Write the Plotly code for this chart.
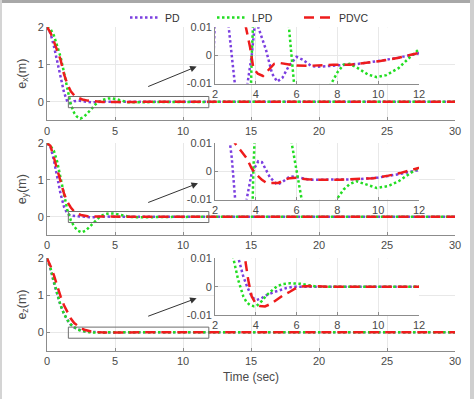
import plotly.graph_objects as go

# ---------------- data ----------------
series_names = ["PD", "LPD", "PDVC"]
panel_titles = ["e<sub>x</sub>(m)", "e<sub>y</sub>(m)", "e<sub>z</sub>(m)"]
x_title = "Time (sec)"
main_xticks = [0, 5, 10, 15, 20, 25, 30]
main_yticks = [0, 1, 2]
inset_xticks = [2, 4, 6, 8, 10, 12]
inset_yticks = [-0.01, 0, 0.01]
inset_yticklabels = ["-0.01", "0", "0.01"]

# e_x
tx_pd = [0, 0.25, 0.5, 0.75, 1.0, 1.25, 1.5, 1.65, 1.8, 2.0, 2.4, 2.6, 2.82, 3.05, 3.3, 3.55, 3.8, 3.95, 4.1, 4.2, 4.5, 4.8, 5.05, 5.3, 5.6, 6.0, 6.3, 6.7, 7.0, 7.5, 8.0, 9.0, 10.0, 11.0, 12.0, 13.0, 15, 20, 25, 30]
ex_pd = [2.0, 1.84, 1.5, 1.08, 0.62, 0.25, 0.0, -0.04, -0.03, 0.015, 0.025, 0.015, 0.0, -0.015, -0.02, -0.012, 0.0, 0.011, 0.0105, 0.0084, 0.002, -0.0065, -0.0093, -0.008, -0.004, -0.0005, -0.0015, -0.0037, -0.004, -0.0038, -0.0035, -0.003, -0.002, -0.0008, 0.0008, 0.0004, 0.0, 0.0, 0.0, 0.0]
tx_lpd = [0, 0.25, 0.5, 0.75, 1.0, 1.25, 1.5, 1.75, 2.0, 2.2, 2.45, 2.7, 3.0, 3.3, 3.6, 3.8, 4.1, 4.5, 4.8, 5.1, 5.4, 5.6, 5.75, 5.9, 6.1, 6.6, 7.2, 7.7, 8.0, 8.3, 8.6, 9.0, 9.5, 9.93, 10.4, 11.0, 11.5, 12.0, 13.0, 15, 20, 25, 30]
ex_lpd = [2.0, 1.95, 1.78, 1.5, 1.2, 0.78, 0.33, -0.08, -0.3, -0.4, -0.45, -0.41, -0.3, -0.17, -0.06, 0.0, 0.05, 0.085, 0.09, 0.07, 0.035, 0.012, 0.0, -0.012, -0.016, -0.02, -0.015, -0.01, -0.006, -0.0033, -0.003, -0.0045, -0.0068, -0.0077, -0.007, -0.0045, -0.001, 0.0022, 0.001, 0.0, 0.0, 0.0, 0.0]
tx_pdvc = [0, 0.25, 0.5, 0.75, 1.0, 1.25, 1.5, 1.75, 2.0, 2.25, 2.6, 3.0, 3.3, 3.5, 3.72, 3.88, 4.1, 4.35, 4.6, 4.9, 5.2, 5.5, 6.0, 6.5, 7.0, 7.8, 8.6, 9.3, 10.1, 11.0, 12.0, 13.0, 15, 20, 25, 30]
ex_pdvc = [2.0, 1.85, 1.62, 1.38, 1.12, 0.74, 0.47, 0.28, 0.17, 0.11, 0.06, 0.03, 0.016, 0.0105, 0.0029, -0.0045, -0.0065, -0.0073, -0.0055, -0.003, -0.0027, -0.003, -0.0036, -0.0037, -0.0035, -0.0033, -0.0033, -0.0027, -0.002, -0.0008, 0.0009, 0.0005, 0.0, 0.0, 0.0, 0.0]

# e_y
ty_pd = [0, 0.25, 0.5, 0.75, 1.0, 1.25, 1.5, 1.75, 2.0, 2.4, 2.7, 2.82, 2.92, 3.0, 3.25, 3.45, 3.55, 3.8, 4.12, 4.3, 4.7, 5.05, 5.3, 5.67, 6.0, 6.65, 7.0, 8.0, 9.0, 10.0, 11.0, 12.0, 13.0, 15, 20, 25, 30]
ey_pd = [2.0, 1.92, 1.55, 1.05, 0.62, 0.27, 0.08, 0.03, 0.02, 0.018, 0.012, 0.005, -0.004, -0.011, -0.02, -0.014, -0.01, -0.0006, 0.0036, 0.0033, -0.0022, -0.0047, -0.0038, -0.0018, -0.002, -0.003, -0.003, -0.003, -0.0028, -0.0022, -0.001, 0.0005, 0.0003, 0.0, 0.0, 0.0, 0.0]
ty_lpd = [0, 0.25, 0.5, 0.75, 1.0, 1.25, 1.5, 1.75, 2.0, 2.25, 2.55, 2.85, 3.15, 3.4, 3.65, 3.88, 4.2, 4.6, 4.9, 5.2, 5.5, 5.76, 6.0, 6.25, 6.6, 7.2, 7.7, 7.96, 8.3, 8.6, 8.94, 9.4, 9.93, 10.5, 11.0, 11.5, 11.97, 13.0, 15, 20, 25, 30]
ey_lpd = [2.0, 1.93, 1.8, 1.5, 1.05, 0.6, 0.18, -0.1, -0.27, -0.38, -0.43, -0.38, -0.27, -0.17, -0.07, 0.0, 0.06, 0.09, 0.085, 0.06, 0.03, 0.01, 0.0, -0.01, -0.02, -0.02, -0.014, -0.01, -0.0065, -0.0045, -0.0035, -0.0045, -0.0059, -0.0052, -0.0035, -0.001, 0.0012, 0.0008, 0.0, 0.0, 0.0, 0.0]
ty_pdvc = [0, 0.25, 0.5, 0.75, 1.0, 1.25, 1.5, 1.75, 2.0, 2.25, 2.5, 2.75, 2.98, 3.25, 3.55, 3.8, 4.04, 4.3, 4.53, 5.1, 5.4, 5.67, 6.0, 6.5, 7.0, 8.1, 9.0, 9.77, 10.5, 11.07, 11.97, 13.0, 15, 20, 25, 30]
ey_pdvc = [2.0, 1.93, 1.62, 1.3, 0.95, 0.63, 0.4, 0.25, 0.14, 0.08, 0.045, 0.022, 0.01, 0.0075, 0.0047, 0.001, -0.0012, -0.003, -0.0041, -0.0041, -0.003, -0.0024, -0.0023, -0.0028, -0.003, -0.003, -0.0028, -0.0024, -0.0015, -0.0006, 0.0012, 0.0006, 0.0, 0.0, 0.0, 0.0]

# e_z
tz_pd = [0, 0.25, 0.5, 0.75, 1.0, 1.25, 1.5, 1.75, 2.0, 2.25, 2.5, 2.75, 3.0, 3.14, 3.39, 3.55, 3.72, 3.9, 4.04, 4.25, 4.53, 4.85, 5.19, 5.5, 5.85, 6.5, 12, 20, 30]
ez_pd = [2.0, 1.72, 1.35, 1.0, 0.72, 0.5, 0.33, 0.21, 0.13, 0.08, 0.045, 0.025, 0.014, 0.01, 0.0035, 0.0005, -0.0024, -0.0042, -0.0047, -0.0042, -0.003, -0.002, -0.0012, -0.0005, 0.0, 0.0, 0.0, 0.0, 0.0]
tz_lpd = [0, 0.25, 0.5, 0.75, 1.0, 1.25, 1.5, 1.75, 2.0, 2.25, 2.5, 2.75, 2.9, 3.14, 3.39, 3.55, 3.72, 3.9, 4.04, 4.3, 4.53, 4.8, 5.02, 5.3, 5.67, 6.2, 6.6, 7.0, 12, 20, 30]
ez_lpd = [2.0, 1.75, 1.38, 1.02, 0.73, 0.5, 0.33, 0.21, 0.13, 0.075, 0.042, 0.02, 0.01, 0.0023, -0.0035, -0.0055, -0.0065, -0.0069, -0.0068, -0.005, -0.003, -0.0013, 0.0, 0.0009, 0.0012, 0.001, 0.0005, 0.0, 0.0, 0.0, 0.0]
tz_pdvc = [0, 0.25, 0.5, 0.75, 1.0, 1.25, 1.5, 1.75, 2.0, 2.25, 2.5, 2.75, 3.0, 3.25, 3.47, 3.63, 3.8, 4.0, 4.2, 4.45, 4.75, 5.02, 5.35, 5.67, 5.9, 6.17, 6.65, 7.5, 12, 20, 30]
ez_pdvc = [2.0, 1.8, 1.55, 1.25, 0.97, 0.73, 0.53, 0.37, 0.25, 0.17, 0.11, 0.07, 0.04, 0.02, 0.01, 0.0023, -0.0035, -0.006, -0.0068, -0.007, -0.006, -0.0045, -0.003, -0.0018, -0.0008, 0.0, 0.0002, 0.0, 0.0, 0.0, 0.0]

panels = [
    [(tx_pd, ex_pd), (tx_lpd, ex_lpd), (tx_pdvc, ex_pdvc)],
    [(ty_pd, ey_pd), (ty_lpd, ey_lpd), (ty_pdvc, ey_pdvc)],
    [(tz_pd, ez_pd), (tz_lpd, ez_lpd), (tz_pdvc, ez_pdvc)],
]

# zoom box (data coords of main axes) and arrow (tail -> head) per panel
zoom_box = [1.57, 11.9, -0.16, 0.14]
arrow_tail = [(7.33, 0.39), (7.33, 0.37), (7.33, 0.42)]
arrow_head = [(11.0, 0.94), (11.1, 0.91), (11.0, 0.92)]

# ---------------- style ----------------
W, H = 474, 399
colors = ["#7b3fe0", "#22dd22", "#ee1c1c"]
dashes = ["2.5px,2.5px", "2.5px,2.5px", "10px,6px"]
widths = [2.5, 2.5, 2.5]
FONT = "Liberation Sans, Arial, sans-serif"
TXT = "#4a4a4a"
AXC = "#8c8c8c"
GRID = "#e8e8e8"

def px_x(a, b):
    return [a / W, b / W]

def px_y(top, bot):
    return [1 - bot / H, 1 - top / H]

main_x_dom = px_x(47, 455)
inset_x_dom = px_x(215, 419)
main_y_doms = [px_y(27, 120.4), px_y(143.3, 235.0), px_y(258.3, 350.8)]
inset_y_doms = [px_y(27.3, 83.6), px_y(143.3, 199.5), px_y(258.3, 315.0)]

fig = go.Figure()

for p in range(3):
    mi = 1 + p          # main axes index
    ii = 4 + p          # inset axes index
    for s in range(3):
        t, v = panels[p][s]
        common = dict(mode="lines", line=dict(color=colors[s], dash=dashes[s], width=widths[s]),
                      name=series_names[s], hoverinfo="skip")
        fig.add_trace(go.Scatter(x=t, y=v, xaxis=f"x{mi if mi > 1 else ''}", yaxis=f"y{mi if mi > 1 else ''}",
                                 showlegend=(p == 0), legendrank=s, **common))
        fig.add_trace(go.Scatter(x=t, y=v, xaxis=f"x{ii}", yaxis=f"y{ii}", showlegend=False, **common))

axis_common = dict(showline=True, linecolor=AXC, linewidth=1, showgrid=True, gridcolor=GRID, gridwidth=1,
                   zeroline=False, ticks="inside", ticklen=3, tickcolor=AXC, mirror=False, automargin=False,
                   tickfont=dict(family=FONT, size=11, color=TXT))

layout = dict(
    width=W, height=H, margin=dict(l=0, r=0, t=0, b=0, autoexpand=False),
    paper_bgcolor="white", plot_bgcolor="white",
    font=dict(family=FONT, size=11, color=TXT),
    showlegend=True,
    legend=dict(orientation="h", x=125 / W, xanchor="left", y=1 - 3 / H, yanchor="top",
                bgcolor="rgba(0,0,0,0)", font=dict(family=FONT, size=10.5, color="#333333"),
                entrywidth=42, entrywidthmode="pixels", traceorder="normal"),
)

for p in range(3):
    mi = 1 + p
    ii = 4 + p
    kx = "xaxis" if mi == 1 else f"xaxis{mi}"
    ky = "yaxis" if mi == 1 else f"yaxis{mi}"
    ya = "y" if mi == 1 else f"y{mi}"
    xa = "x" if mi == 1 else f"x{mi}"
    xd = dict(axis_common, domain=main_x_dom, range=[0, 30], tickvals=main_xticks, anchor=ya)
    if p == 2:
        xd["title"] = dict(text=x_title, font=dict(family=FONT, size=12, color=TXT), standoff=6)
    layout[kx] = xd
    layout[ky] = dict(axis_common, domain=main_y_doms[p], range=[-0.5, 2], tickvals=main_yticks, anchor=xa,
                      title=dict(text=panel_titles[p], font=dict(family=FONT, size=12.5, color=TXT), standoff=8))
    layout[f"xaxis{ii}"] = dict(axis_common, domain=inset_x_dom, range=[2, 12], tickvals=inset_xticks,
                                anchor=f"y{ii}")
    layout[f"yaxis{ii}"] = dict(axis_common, domain=inset_y_doms[p], range=[-0.01, 0.01], tickvals=inset_yticks,
                                ticktext=inset_yticklabels, anchor=f"x{ii}")

shapes = []
annotations = []
for p in range(3):
    mi = 1 + p
    xa = "x" if mi == 1 else f"x{mi}"
    ya = "y" if mi == 1 else f"y{mi}"
    shapes.append(dict(type="rect", xref=xa, yref=ya, x0=zoom_box[0], x1=zoom_box[1], y0=zoom_box[2],
                       y1=zoom_box[3], line=dict(color="#6e6e6e", width=1), fillcolor="rgba(0,0,0,0)",
                       layer="above"))
    annotations.append(dict(xref=xa, yref=ya, axref=xa, ayref=ya, x=arrow_head[p][0], y=arrow_head[p][1],
                            ax=arrow_tail[p][0], ay=arrow_tail[p][1], showarrow=True, arrowhead=2,
                            arrowsize=1.3, arrowwidth=1, arrowcolor="#333333", text=""))

# outer frame of the picture
shapes.append(dict(type="rect", xref="paper", yref="paper", x0=0, x1=1, y0=1 - 3 / H, y1=1,
                   fillcolor="#a8a8a8", line=dict(width=0), layer="above"))
shapes.append(dict(type="rect", xref="paper", yref="paper", x0=0, x1=2 / W, y0=0, y1=1,
                   fillcolor="#d4d4d4", line=dict(width=0), layer="above"))
shapes.append(dict(type="rect", xref="paper", yref="paper", x0=1 - 4 / W, x1=1, y0=0, y1=1,
                   fillcolor="#cfcfcf", line=dict(width=0), layer="above"))

layout["shapes"] = shapes
layout["annotations"] = annotations
fig.update_layout(**layout)
fig.write_html("out.html", config={"displayModeBar": False},
               post_script="document.body.style.margin='0';document.body.style.padding='0';")
